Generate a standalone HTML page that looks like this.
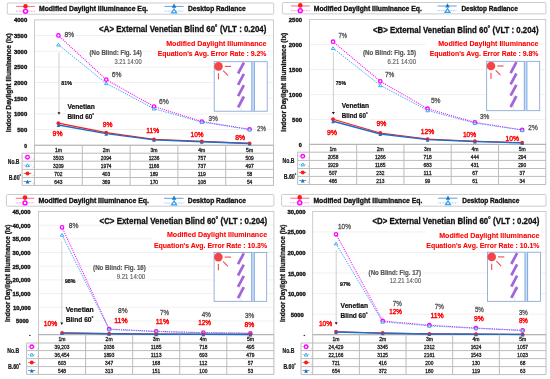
<!DOCTYPE html>
<html><head><meta charset="utf-8"><title>External Venetian Blind 60 charts</title>
<style>
html,body{margin:0;padding:0;background:#fff;}
body{width:550px;height:379px;overflow:hidden;}
svg{display:block;filter:blur(0.35px);font-family:'Liberation Sans', Arial, sans-serif;}
</style></head><body>
<svg width="550" height="379" viewBox="0 0 550 379">
<rect width="550" height="379" fill="#fff"/>
<rect x="7.3" y="3.0" width="266.4" height="11.2" rx="1" fill="#fff" stroke="#c0c0c0" stroke-width="0.8"/>
<line x1="16.00" y1="6.40" x2="34.80" y2="6.40" stroke="#f25050" stroke-width="0.8"/>
<line x1="16.00" y1="11.20" x2="34.80" y2="11.20" stroke="#ff55ff" stroke-width="0.8" stroke-dasharray="0.8 0.7"/>
<circle cx="25.50" cy="6.30" r="2.28" fill="#ff1a1a"/>
<circle cx="25.50" cy="11.20" r="1.95" fill="#fff" stroke="#ff00ff" stroke-width="1.49"/>
<text x="39.0" y="10.8" font-size="6.4" font-weight="bold" fill="#111" stroke="#111" stroke-width="0.3" textLength="109.0" lengthAdjust="spacingAndGlyphs">Modified Daylight Illuminance Eq.</text>
<line x1="164.50" y1="6.40" x2="183.60" y2="6.40" stroke="#3d85d8" stroke-width="0.8"/>
<line x1="164.50" y1="11.05" x2="183.60" y2="11.05" stroke="#7cbcf0" stroke-width="0.8" stroke-dasharray="1 0.7"/>
<path d="M174.10,3.53 L176.26,7.85 L171.94,7.85Z" fill="#1b6fc8"/>
<path d="M174.10,8.99 L176.55,12.84 L171.65,12.84Z" fill="#fff" stroke="#30a4ee" stroke-width="1.26"/>
<text x="188.0" y="10.8" font-size="6.4" font-weight="bold" fill="#111" stroke="#111" stroke-width="0.3" textLength="57.6" lengthAdjust="spacingAndGlyphs">Desktop Radiance</text>
<line x1="34.50" y1="129.54" x2="273.50" y2="129.54" stroke="#f0f0f0" stroke-width="1.0"/>
<line x1="34.50" y1="113.88" x2="273.50" y2="113.88" stroke="#f0f0f0" stroke-width="1.0"/>
<line x1="34.50" y1="98.21" x2="273.50" y2="98.21" stroke="#f0f0f0" stroke-width="1.0"/>
<line x1="34.50" y1="82.55" x2="273.50" y2="82.55" stroke="#f0f0f0" stroke-width="1.0"/>
<line x1="34.50" y1="66.89" x2="273.50" y2="66.89" stroke="#f0f0f0" stroke-width="1.0"/>
<line x1="34.50" y1="51.22" x2="273.50" y2="51.22" stroke="#f0f0f0" stroke-width="1.0"/>
<line x1="34.50" y1="35.56" x2="273.50" y2="35.56" stroke="#f0f0f0" stroke-width="1.0"/>
<rect x="34.5" y="19.9" width="239.0" height="125.3" fill="none" stroke="#c0c0c0" stroke-width="0.8"/>
<rect x="88" y="47" width="54.4" height="18.5" fill="#fff"/>
<rect x="151.8" y="38" width="116.2" height="21.5" fill="#fff"/>
<rect x="66" y="100.5" width="30.5" height="21.5" fill="#fff"/>
<rect x="63.3" y="30.4" width="12.1" height="7.2" fill="#fff"/>
<rect x="110.6" y="70.9" width="12.1" height="7.2" fill="#fff"/>
<rect x="157.8" y="98.0" width="12.2" height="7.2" fill="#fff"/>
<rect x="207.4" y="114.3" width="11.6" height="7.2" fill="#fff"/>
<rect x="255.8" y="124.4" width="11.4" height="7.2" fill="#fff"/>
<rect x="51.4" y="130.0" width="12.3" height="7.2" fill="#fff"/>
<rect x="101.6" y="120.8" width="12.1" height="7.2" fill="#fff"/>
<rect x="145.1" y="126.7" width="15.3" height="7.2" fill="#fff"/>
<rect x="189.4" y="130.6" width="15.4" height="7.2" fill="#fff"/>
<rect x="234.0" y="133.7" width="12.3" height="7.2" fill="#fff"/>
<rect x="60.1" y="79.7" width="12.9" height="7.2" fill="#fff"/>
<text x="17.3" y="132.0" font-size="5.9" font-weight="bold" fill="#111" stroke="#111" stroke-width="0.36" textLength="9.9" lengthAdjust="spacingAndGlyphs">500</text>
<text x="14.0" y="116.3" font-size="5.9" font-weight="bold" fill="#111" stroke="#111" stroke-width="0.36" textLength="13.2" lengthAdjust="spacingAndGlyphs">1000</text>
<text x="14.0" y="100.7" font-size="5.9" font-weight="bold" fill="#111" stroke="#111" stroke-width="0.36" textLength="13.2" lengthAdjust="spacingAndGlyphs">1500</text>
<text x="14.0" y="85.0" font-size="5.9" font-weight="bold" fill="#111" stroke="#111" stroke-width="0.36" textLength="13.2" lengthAdjust="spacingAndGlyphs">2000</text>
<text x="14.0" y="69.4" font-size="5.9" font-weight="bold" fill="#111" stroke="#111" stroke-width="0.36" textLength="13.2" lengthAdjust="spacingAndGlyphs">2500</text>
<text x="14.0" y="53.7" font-size="5.9" font-weight="bold" fill="#111" stroke="#111" stroke-width="0.36" textLength="13.2" lengthAdjust="spacingAndGlyphs">3000</text>
<text x="14.0" y="38.0" font-size="5.9" font-weight="bold" fill="#111" stroke="#111" stroke-width="0.36" textLength="13.2" lengthAdjust="spacingAndGlyphs">3500</text>
<text x="14.0" y="22.4" font-size="5.9" font-weight="bold" fill="#111" stroke="#111" stroke-width="0.36" textLength="13.2" lengthAdjust="spacingAndGlyphs">4000</text>
<text transform="translate(11.0,82.7) rotate(-90)" x="0" y="0" text-anchor="middle" font-size="7" font-weight="bold" fill="#1a1a1a" stroke="#1a1a1a" stroke-width="0.3" textLength="99" lengthAdjust="spacingAndGlyphs">Indoor Daylight Illuminance (lx)</text>
<g transform="translate(214.2,61.7)"><rect x="0" y="0" width="53.0" height="49.5" fill="#fff" stroke="#7f9fd6" stroke-width="0.8"/><rect x="37.6" y="0" width="2.6" height="49.5" fill="#cddff5"/><line x1="37.6" y1="0" x2="37.6" y2="49.5" stroke="#6b9ce0" stroke-width="0.85"/><line x1="40.2" y1="0" x2="40.2" y2="49.5" stroke="#6b9ce0" stroke-width="0.85"/><line x1="26.9" y1="33" x2="26.9" y2="49.5" stroke="#cccccc" stroke-width="0.5"/><circle cx="4.3" cy="4.7" r="4.3" fill="#f44646"/><line x1="10.6" y1="4.7" x2="16.9" y2="4.7" stroke="#f44a4a" stroke-width="1.1"/><line x1="9" y1="9" x2="13.8" y2="13.9" stroke="#f44a4a" stroke-width="1.1"/><line x1="4.3" y1="11.5" x2="4.3" y2="17.8" stroke="#f44a4a" stroke-width="1.1"/>
<line x1="29.7" y1="0.9" x2="23.9" y2="11.8" stroke="#a266da" stroke-width="2.7"/>
<line x1="29.7" y1="12.2" x2="23.9" y2="23.1" stroke="#a266da" stroke-width="2.7"/>
<line x1="29.7" y1="23.5" x2="23.9" y2="34.4" stroke="#a266da" stroke-width="2.7"/>
<line x1="29.7" y1="34.8" x2="23.9" y2="45.7" stroke="#a266da" stroke-width="2.7"/>
</g>
<line x1="59.00" y1="52.50" x2="59.00" y2="112.50" stroke="#c6c6c6" stroke-width="0.85"/>
<path d="M57.55,112.20 L60.45,112.20 L59.00,114.70Z" fill="#111"/>
<line x1="34.50" y1="145.20" x2="273.50" y2="145.20" stroke="#b4b4b4" stroke-width="1.1"/>
<path d="M58.40,35.47 L106.20,79.61 L154.00,106.48 L201.80,121.49 L249.60,129.26" fill="none" stroke="#ff00ff" stroke-width="1.05" stroke-dasharray="1.0 1.1"/>
<path d="M58.40,44.68 L106.20,83.36 L154.00,108.68 L201.80,122.11 L249.60,129.63" fill="none" stroke="#30a4ee" stroke-width="0.95" stroke-dasharray="1.4 1.1"/>
<path d="M58.40,123.21 L106.20,132.58 L154.00,139.28 L201.80,141.47 L249.60,143.38" fill="none" stroke="#ff1a1a" stroke-width="1.2"/>
<path d="M58.40,125.06 L106.20,133.64 L154.00,139.87 L201.80,141.82 L249.60,143.51" fill="none" stroke="#1b6fc8" stroke-width="1.45"/>
<circle cx="58.40" cy="35.47" r="1.70" fill="#fff" stroke="#ff00ff" stroke-width="1.30"/>
<circle cx="106.20" cy="79.61" r="1.70" fill="#fff" stroke="#ff00ff" stroke-width="1.30"/>
<circle cx="154.00" cy="106.48" r="1.70" fill="#fff" stroke="#ff00ff" stroke-width="1.30"/>
<circle cx="201.80" cy="121.49" r="1.70" fill="#fff" stroke="#ff00ff" stroke-width="1.30"/>
<circle cx="249.60" cy="129.26" r="1.70" fill="#fff" stroke="#ff00ff" stroke-width="1.30"/>
<path d="M58.40,43.28 L60.15,46.03 L56.65,46.03Z" fill="#fff" stroke="#30a4ee" stroke-width="0.90"/>
<path d="M106.20,81.96 L107.95,84.71 L104.45,84.71Z" fill="#fff" stroke="#30a4ee" stroke-width="0.90"/>
<path d="M154.00,107.28 L155.75,110.03 L152.25,110.03Z" fill="#fff" stroke="#30a4ee" stroke-width="0.90"/>
<path d="M201.80,120.71 L203.55,123.46 L200.05,123.46Z" fill="#fff" stroke="#30a4ee" stroke-width="0.90"/>
<path d="M249.60,128.23 L251.35,130.98 L247.85,130.98Z" fill="#fff" stroke="#30a4ee" stroke-width="0.90"/>
<circle cx="58.40" cy="123.21" r="1.90" fill="#ff1a1a"/>
<circle cx="106.20" cy="132.58" r="1.90" fill="#ff1a1a"/>
<circle cx="154.00" cy="139.28" r="1.90" fill="#ff1a1a"/>
<circle cx="201.80" cy="141.47" r="1.90" fill="#ff1a1a"/>
<circle cx="249.60" cy="143.38" r="1.90" fill="#ff1a1a"/>
<path d="M58.40,123.46 L60.20,127.06 L56.60,127.06Z" fill="#1b6fc8"/>
<path d="M106.20,132.04 L108.00,135.64 L104.40,135.64Z" fill="#1b6fc8"/>
<path d="M154.00,138.27 L155.80,141.87 L152.20,141.87Z" fill="#1b6fc8"/>
<path d="M201.80,140.22 L203.60,143.82 L200.00,143.82Z" fill="#1b6fc8"/>
<path d="M249.60,141.91 L251.40,145.51 L247.80,145.51Z" fill="#1b6fc8"/>
<text x="99.1" y="32.3" font-size="8.6" font-weight="bold" fill="#111" stroke="#111" stroke-width="0.3" textLength="167.3" lengthAdjust="spacingAndGlyphs">&lt;A&gt; External Venetian Blind 60˚ (VLT : 0.204)</text>
<text x="166.2" y="45.8" font-size="7.5" font-weight="bold" fill="#ff0000" stroke="#ff0000" stroke-width="0.1" textLength="100.2" lengthAdjust="spacingAndGlyphs">Modified Daylight Illuminance</text>
<text x="157.7" y="56.3" font-size="7.5" font-weight="bold" fill="#ff0000" stroke="#ff0000" stroke-width="0.1" textLength="108.7" lengthAdjust="spacingAndGlyphs">Equation's Avg. Error Rate : 9.2%</text>
<text x="89.5" y="55.4" font-size="6.8" font-weight="bold" fill="#595959" stroke="#595959" stroke-width="0.22" textLength="52.3" lengthAdjust="spacingAndGlyphs">(No Blind: Fig. 14)</text>
<text x="114.5" y="64.3" font-size="6.5" fill="#606060" stroke="#606060" stroke-width="0.15" textLength="27.3" lengthAdjust="spacingAndGlyphs">3.21 14:00</text>
<text x="61.3" y="85.3" font-size="5.6" font-weight="bold" fill="#111" stroke="#111" stroke-width="0.22" textLength="10.5" lengthAdjust="spacingAndGlyphs">81%</text>
<text x="67.4" y="109.3" font-size="7.2" font-weight="bold" fill="#111" stroke="#111" stroke-width="0.22" textLength="27.5" lengthAdjust="spacingAndGlyphs">Venetian</text>
<text x="67.4" y="119.2" font-size="7.2" font-weight="bold" fill="#111" stroke="#111" stroke-width="0.22" textLength="27.1" lengthAdjust="spacingAndGlyphs">Blind 60˚</text>
<text x="64.5" y="36.6" font-size="8.0" fill="#505050" stroke="#505050" stroke-width="0.32" textLength="9.7" lengthAdjust="spacingAndGlyphs">8%</text>
<text x="111.8" y="77.1" font-size="8.0" fill="#505050" stroke="#505050" stroke-width="0.32" textLength="9.7" lengthAdjust="spacingAndGlyphs">6%</text>
<text x="159.0" y="104.2" font-size="8.0" fill="#505050" stroke="#505050" stroke-width="0.32" textLength="9.8" lengthAdjust="spacingAndGlyphs">6%</text>
<text x="208.6" y="120.5" font-size="8.0" fill="#505050" stroke="#505050" stroke-width="0.32" textLength="9.2" lengthAdjust="spacingAndGlyphs">3%</text>
<text x="257.0" y="130.6" font-size="8.0" fill="#505050" stroke="#505050" stroke-width="0.32" textLength="9.0" lengthAdjust="spacingAndGlyphs">2%</text>
<text x="52.6" y="136.2" font-size="7.9" fill="#ff0000" stroke="#ff0000" stroke-width="0.45" textLength="9.9" lengthAdjust="spacingAndGlyphs">9%</text>
<text x="102.8" y="127.0" font-size="7.9" fill="#ff0000" stroke="#ff0000" stroke-width="0.45" textLength="9.7" lengthAdjust="spacingAndGlyphs">9%</text>
<text x="146.3" y="132.9" font-size="7.9" fill="#ff0000" stroke="#ff0000" stroke-width="0.45" textLength="12.9" lengthAdjust="spacingAndGlyphs">11%</text>
<text x="190.6" y="136.8" font-size="7.9" fill="#ff0000" stroke="#ff0000" stroke-width="0.45" textLength="13.0" lengthAdjust="spacingAndGlyphs">10%</text>
<text x="235.2" y="139.9" font-size="7.9" fill="#ff0000" stroke="#ff0000" stroke-width="0.45" textLength="9.9" lengthAdjust="spacingAndGlyphs">8%</text>
<line x1="22.10" y1="153.20" x2="273.50" y2="153.20" stroke="#bcbcbc" stroke-width="1.0"/>
<line x1="22.10" y1="161.20" x2="273.50" y2="161.20" stroke="#bcbcbc" stroke-width="1.0"/>
<line x1="22.10" y1="169.40" x2="273.50" y2="169.40" stroke="#bcbcbc" stroke-width="1.0"/>
<line x1="22.10" y1="177.50" x2="273.50" y2="177.50" stroke="#bcbcbc" stroke-width="1.0"/>
<line x1="22.10" y1="185.40" x2="273.50" y2="185.40" stroke="#bcbcbc" stroke-width="1.0"/>
<line x1="22.10" y1="153.20" x2="22.10" y2="185.40" stroke="#bcbcbc" stroke-width="1.0"/>
<line x1="34.50" y1="145.20" x2="34.50" y2="185.40" stroke="#bcbcbc" stroke-width="1.0"/>
<line x1="82.30" y1="145.20" x2="82.30" y2="185.40" stroke="#bcbcbc" stroke-width="1.0"/>
<line x1="130.10" y1="145.20" x2="130.10" y2="185.40" stroke="#bcbcbc" stroke-width="1.0"/>
<line x1="177.90" y1="145.20" x2="177.90" y2="185.40" stroke="#bcbcbc" stroke-width="1.0"/>
<line x1="225.70" y1="145.20" x2="225.70" y2="185.40" stroke="#bcbcbc" stroke-width="1.0"/>
<line x1="273.50" y1="145.20" x2="273.50" y2="185.40" stroke="#bcbcbc" stroke-width="1.0"/>
<line x1="23.70" y1="157.20" x2="31.30" y2="157.20" stroke="#ff44ff" stroke-width="0.8" stroke-dasharray="1 0.8"/>
<circle cx="27.50" cy="157.20" r="1.78" fill="#fff" stroke="#ff00ff" stroke-width="1.37"/>
<line x1="33.30" y1="158.40" x2="33.30" y2="159.80" stroke="#aaa" stroke-width="0.5"/>
<line x1="23.70" y1="165.30" x2="31.30" y2="165.30" stroke="#5ab4f0" stroke-width="0.8" stroke-dasharray="1 0.8"/>
<path d="M27.50,163.83 L29.34,166.72 L25.66,166.72Z" fill="#fff" stroke="#30a4ee" stroke-width="0.95"/>
<line x1="33.30" y1="166.50" x2="33.30" y2="167.90" stroke="#aaa" stroke-width="0.5"/>
<line x1="23.70" y1="173.45" x2="31.30" y2="173.45" stroke="#ff3030" stroke-width="0.8"/>
<circle cx="27.50" cy="173.45" r="1.99" fill="#ff1a1a"/>
<line x1="33.30" y1="174.65" x2="33.30" y2="176.05" stroke="#aaa" stroke-width="0.5"/>
<line x1="23.70" y1="181.45" x2="31.30" y2="181.45" stroke="#2a80d0" stroke-width="0.8"/>
<path d="M27.50,179.77 L29.39,183.55 L25.61,183.55Z" fill="#1b6fc8"/>
<line x1="33.30" y1="182.65" x2="33.30" y2="184.05" stroke="#aaa" stroke-width="0.5"/>
<text x="58.4" y="151.5" font-size="5.3" fill="#222222" stroke="#222222" stroke-width="0.3" text-anchor="middle" textLength="7.0" lengthAdjust="spacingAndGlyphs">1m</text>
<text x="106.2" y="151.5" font-size="5.3" fill="#222222" stroke="#222222" stroke-width="0.3" text-anchor="middle" textLength="7.0" lengthAdjust="spacingAndGlyphs">2m</text>
<text x="154.0" y="151.5" font-size="5.3" fill="#222222" stroke="#222222" stroke-width="0.3" text-anchor="middle" textLength="7.0" lengthAdjust="spacingAndGlyphs">3m</text>
<text x="201.8" y="151.5" font-size="5.3" fill="#222222" stroke="#222222" stroke-width="0.3" text-anchor="middle" textLength="7.0" lengthAdjust="spacingAndGlyphs">4m</text>
<text x="249.6" y="151.5" font-size="5.3" fill="#222222" stroke="#222222" stroke-width="0.3" text-anchor="middle" textLength="7.0" lengthAdjust="spacingAndGlyphs">5m</text>
<text x="58.4" y="159.6" font-size="5.3" fill="#222222" stroke="#222222" stroke-width="0.3" text-anchor="middle" textLength="10.7" lengthAdjust="spacingAndGlyphs">3503</text>
<text x="106.2" y="159.6" font-size="5.3" fill="#222222" stroke="#222222" stroke-width="0.3" text-anchor="middle" textLength="10.7" lengthAdjust="spacingAndGlyphs">2094</text>
<text x="154.0" y="159.6" font-size="5.3" fill="#222222" stroke="#222222" stroke-width="0.3" text-anchor="middle" textLength="10.7" lengthAdjust="spacingAndGlyphs">1236</text>
<text x="201.8" y="159.6" font-size="5.3" fill="#222222" stroke="#222222" stroke-width="0.3" text-anchor="middle" textLength="8.1" lengthAdjust="spacingAndGlyphs">757</text>
<text x="249.6" y="159.6" font-size="5.3" fill="#222222" stroke="#222222" stroke-width="0.3" text-anchor="middle" textLength="8.1" lengthAdjust="spacingAndGlyphs">509</text>
<text x="58.4" y="167.7" font-size="5.3" fill="#222222" stroke="#222222" stroke-width="0.3" text-anchor="middle" textLength="10.7" lengthAdjust="spacingAndGlyphs">3209</text>
<text x="106.2" y="167.7" font-size="5.3" fill="#222222" stroke="#222222" stroke-width="0.3" text-anchor="middle" textLength="10.7" lengthAdjust="spacingAndGlyphs">1974</text>
<text x="154.0" y="167.7" font-size="5.3" fill="#222222" stroke="#222222" stroke-width="0.3" text-anchor="middle" textLength="10.7" lengthAdjust="spacingAndGlyphs">1166</text>
<text x="201.8" y="167.7" font-size="5.3" fill="#222222" stroke="#222222" stroke-width="0.3" text-anchor="middle" textLength="8.1" lengthAdjust="spacingAndGlyphs">737</text>
<text x="249.6" y="167.7" font-size="5.3" fill="#222222" stroke="#222222" stroke-width="0.3" text-anchor="middle" textLength="8.1" lengthAdjust="spacingAndGlyphs">497</text>
<text x="58.4" y="175.8" font-size="5.3" fill="#222222" stroke="#222222" stroke-width="0.3" text-anchor="middle" textLength="8.1" lengthAdjust="spacingAndGlyphs">702</text>
<text x="106.2" y="175.8" font-size="5.3" fill="#222222" stroke="#222222" stroke-width="0.3" text-anchor="middle" textLength="8.1" lengthAdjust="spacingAndGlyphs">403</text>
<text x="154.0" y="175.8" font-size="5.3" fill="#222222" stroke="#222222" stroke-width="0.3" text-anchor="middle" textLength="8.1" lengthAdjust="spacingAndGlyphs">189</text>
<text x="201.8" y="175.8" font-size="5.3" fill="#222222" stroke="#222222" stroke-width="0.3" text-anchor="middle" textLength="8.1" lengthAdjust="spacingAndGlyphs">119</text>
<text x="249.6" y="175.8" font-size="5.3" fill="#222222" stroke="#222222" stroke-width="0.3" text-anchor="middle" textLength="5.4" lengthAdjust="spacingAndGlyphs">58</text>
<text x="58.4" y="183.8" font-size="5.3" fill="#222222" stroke="#222222" stroke-width="0.3" text-anchor="middle" textLength="8.1" lengthAdjust="spacingAndGlyphs">643</text>
<text x="106.2" y="183.8" font-size="5.3" fill="#222222" stroke="#222222" stroke-width="0.3" text-anchor="middle" textLength="8.1" lengthAdjust="spacingAndGlyphs">369</text>
<text x="154.0" y="183.8" font-size="5.3" fill="#222222" stroke="#222222" stroke-width="0.3" text-anchor="middle" textLength="8.1" lengthAdjust="spacingAndGlyphs">170</text>
<text x="201.8" y="183.8" font-size="5.3" fill="#222222" stroke="#222222" stroke-width="0.3" text-anchor="middle" textLength="8.1" lengthAdjust="spacingAndGlyphs">108</text>
<text x="249.6" y="183.8" font-size="5.3" fill="#222222" stroke="#222222" stroke-width="0.3" text-anchor="middle" textLength="5.4" lengthAdjust="spacingAndGlyphs">54</text>
<text x="7.8" y="164.1" font-size="6.4" font-weight="bold" fill="#1a1a1a" stroke="#1a1a1a" stroke-width="0.22" textLength="11.7" lengthAdjust="spacingAndGlyphs">No.B</text>
<text x="8.7" y="180.1" font-size="6.4" font-weight="bold" fill="#1a1a1a" stroke="#1a1a1a" stroke-width="0.22" textLength="12.6" lengthAdjust="spacingAndGlyphs">B.60˚</text>
<rect x="282.4" y="2.5" width="263.5" height="11.4" rx="1" fill="#fff" stroke="#c0c0c0" stroke-width="0.8"/>
<line x1="291.00" y1="6.00" x2="309.80" y2="6.00" stroke="#f25050" stroke-width="0.8"/>
<line x1="291.00" y1="10.65" x2="309.80" y2="10.65" stroke="#ff55ff" stroke-width="0.8" stroke-dasharray="0.8 0.7"/>
<circle cx="300.30" cy="5.40" r="2.28" fill="#ff1a1a"/>
<circle cx="300.30" cy="10.65" r="1.95" fill="#fff" stroke="#ff00ff" stroke-width="1.49"/>
<text x="313.8" y="10.7" font-size="6.4" font-weight="bold" fill="#111" stroke="#111" stroke-width="0.3" textLength="108.0" lengthAdjust="spacingAndGlyphs">Modified Daylight Illuminance Eq.</text>
<line x1="437.60" y1="6.00" x2="456.70" y2="6.00" stroke="#3d85d8" stroke-width="0.8"/>
<line x1="437.60" y1="10.65" x2="456.70" y2="10.65" stroke="#7cbcf0" stroke-width="0.8" stroke-dasharray="1 0.7"/>
<path d="M447.50,3.13 L449.66,7.45 L445.34,7.45Z" fill="#1b6fc8"/>
<path d="M447.50,8.59 L449.95,12.44 L445.05,12.44Z" fill="#fff" stroke="#30a4ee" stroke-width="1.26"/>
<text x="461.4" y="10.7" font-size="6.4" font-weight="bold" fill="#111" stroke="#111" stroke-width="0.3" textLength="56.4" lengthAdjust="spacingAndGlyphs">Desktop Radiance</text>
<line x1="309.40" y1="119.60" x2="545.80" y2="119.60" stroke="#f0f0f0" stroke-width="1.0"/>
<line x1="309.40" y1="94.60" x2="545.80" y2="94.60" stroke="#f0f0f0" stroke-width="1.0"/>
<line x1="309.40" y1="69.60" x2="545.80" y2="69.60" stroke="#f0f0f0" stroke-width="1.0"/>
<line x1="309.40" y1="44.60" x2="545.80" y2="44.60" stroke="#f0f0f0" stroke-width="1.0"/>
<rect x="309.4" y="19.6" width="236.4" height="125.0" fill="none" stroke="#c0c0c0" stroke-width="0.8"/>
<rect x="361.5" y="47" width="55.5" height="18.5" fill="#fff"/>
<rect x="425.5" y="38" width="115.5" height="21.5" fill="#fff"/>
<rect x="340.3" y="100" width="30.2" height="21.0" fill="#fff"/>
<rect x="337.2" y="31.8" width="11.0" height="7.2" fill="#fff"/>
<rect x="383.8" y="71.0" width="11.8" height="7.2" fill="#fff"/>
<rect x="429.7" y="96.8" width="12.0" height="7.2" fill="#fff"/>
<rect x="478.8" y="112.8" width="11.8" height="7.2" fill="#fff"/>
<rect x="527.1" y="123.4" width="11.8" height="7.2" fill="#fff"/>
<rect x="325.7" y="129.1" width="12.5" height="7.2" fill="#fff"/>
<rect x="375.3" y="119.8" width="12.3" height="7.2" fill="#fff"/>
<rect x="419.5" y="127.3" width="15.9" height="7.2" fill="#fff"/>
<rect x="461.7" y="130.6" width="15.7" height="7.2" fill="#fff"/>
<rect x="504.2" y="134.4" width="15.9" height="7.2" fill="#fff"/>
<rect x="334.6" y="79.1" width="12.5" height="7.2" fill="#fff"/>
<text x="292.1" y="122.1" font-size="5.9" font-weight="bold" fill="#111" stroke="#111" stroke-width="0.36" textLength="9.9" lengthAdjust="spacingAndGlyphs">500</text>
<text x="288.8" y="97.1" font-size="5.9" font-weight="bold" fill="#111" stroke="#111" stroke-width="0.36" textLength="13.2" lengthAdjust="spacingAndGlyphs">1000</text>
<text x="288.8" y="72.1" font-size="5.9" font-weight="bold" fill="#111" stroke="#111" stroke-width="0.36" textLength="13.2" lengthAdjust="spacingAndGlyphs">1500</text>
<text x="288.8" y="47.1" font-size="5.9" font-weight="bold" fill="#111" stroke="#111" stroke-width="0.36" textLength="13.2" lengthAdjust="spacingAndGlyphs">2000</text>
<text x="288.8" y="22.1" font-size="5.9" font-weight="bold" fill="#111" stroke="#111" stroke-width="0.36" textLength="13.2" lengthAdjust="spacingAndGlyphs">2500</text>
<text transform="translate(286.0,82.2) rotate(-90)" x="0" y="0" text-anchor="middle" font-size="7" font-weight="bold" fill="#1a1a1a" stroke="#1a1a1a" stroke-width="0.3" textLength="99" lengthAdjust="spacingAndGlyphs">Indoor Daylight Illuminance (lx)</text>
<g transform="translate(486.7,61.3)"><rect x="0" y="0" width="53.0" height="49.4" fill="#fff" stroke="#7f9fd6" stroke-width="0.8"/><rect x="37.6" y="0" width="2.6" height="49.4" fill="#cddff5"/><line x1="37.6" y1="0" x2="37.6" y2="49.4" stroke="#6b9ce0" stroke-width="0.85"/><line x1="40.2" y1="0" x2="40.2" y2="49.4" stroke="#6b9ce0" stroke-width="0.85"/><line x1="26.9" y1="33" x2="26.9" y2="49.4" stroke="#cccccc" stroke-width="0.5"/><circle cx="4.3" cy="4.7" r="4.3" fill="#f44646"/><line x1="10.6" y1="4.7" x2="16.9" y2="4.7" stroke="#f44a4a" stroke-width="1.1"/><line x1="9" y1="9" x2="13.8" y2="13.9" stroke="#f44a4a" stroke-width="1.1"/><line x1="4.3" y1="11.5" x2="4.3" y2="17.8" stroke="#f44a4a" stroke-width="1.1"/>
<line x1="29.7" y1="0.9" x2="23.9" y2="11.8" stroke="#a266da" stroke-width="2.7"/>
<line x1="29.7" y1="12.2" x2="23.9" y2="23.1" stroke="#a266da" stroke-width="2.7"/>
<line x1="29.7" y1="23.5" x2="23.9" y2="34.4" stroke="#a266da" stroke-width="2.7"/>
<line x1="29.7" y1="34.8" x2="23.9" y2="45.7" stroke="#a266da" stroke-width="2.7"/>
</g>
<line x1="333.40" y1="52.30" x2="333.40" y2="112.30" stroke="#c6c6c6" stroke-width="0.85"/>
<path d="M331.95,112.00 L334.85,112.00 L333.40,114.50Z" fill="#111"/>
<line x1="309.40" y1="144.40" x2="545.80" y2="144.40" stroke="#b4b4b4" stroke-width="1.1"/>
<path d="M333.04,41.70 L380.32,81.30 L427.60,108.70 L474.88,122.40 L522.16,129.90" fill="none" stroke="#ff00ff" stroke-width="1.05" stroke-dasharray="1.0 1.1"/>
<path d="M333.04,48.15 L380.32,85.35 L427.60,110.45 L474.88,123.05 L522.16,130.10" fill="none" stroke="#30a4ee" stroke-width="0.95" stroke-dasharray="1.4 1.1"/>
<path d="M333.04,119.25 L380.32,133.00 L427.60,139.05 L474.88,141.25 L522.16,142.75" fill="none" stroke="#ff1a1a" stroke-width="1.2"/>
<path d="M333.04,121.30 L380.32,133.95 L427.60,139.65 L474.88,141.55 L522.16,142.90" fill="none" stroke="#1b6fc8" stroke-width="1.45"/>
<circle cx="333.04" cy="41.70" r="1.70" fill="#fff" stroke="#ff00ff" stroke-width="1.30"/>
<circle cx="380.32" cy="81.30" r="1.70" fill="#fff" stroke="#ff00ff" stroke-width="1.30"/>
<circle cx="427.60" cy="108.70" r="1.70" fill="#fff" stroke="#ff00ff" stroke-width="1.30"/>
<circle cx="474.88" cy="122.40" r="1.70" fill="#fff" stroke="#ff00ff" stroke-width="1.30"/>
<circle cx="522.16" cy="129.90" r="1.70" fill="#fff" stroke="#ff00ff" stroke-width="1.30"/>
<path d="M333.04,46.75 L334.79,49.50 L331.29,49.50Z" fill="#fff" stroke="#30a4ee" stroke-width="0.90"/>
<path d="M380.32,83.95 L382.07,86.70 L378.57,86.70Z" fill="#fff" stroke="#30a4ee" stroke-width="0.90"/>
<path d="M427.60,109.05 L429.35,111.80 L425.85,111.80Z" fill="#fff" stroke="#30a4ee" stroke-width="0.90"/>
<path d="M474.88,121.65 L476.63,124.40 L473.13,124.40Z" fill="#fff" stroke="#30a4ee" stroke-width="0.90"/>
<path d="M522.16,128.70 L523.91,131.45 L520.41,131.45Z" fill="#fff" stroke="#30a4ee" stroke-width="0.90"/>
<circle cx="333.04" cy="119.25" r="1.90" fill="#ff1a1a"/>
<circle cx="380.32" cy="133.00" r="1.90" fill="#ff1a1a"/>
<circle cx="427.60" cy="139.05" r="1.90" fill="#ff1a1a"/>
<circle cx="474.88" cy="141.25" r="1.90" fill="#ff1a1a"/>
<circle cx="522.16" cy="142.75" r="1.90" fill="#ff1a1a"/>
<path d="M333.04,119.70 L334.84,123.30 L331.24,123.30Z" fill="#1b6fc8"/>
<path d="M380.32,132.35 L382.12,135.95 L378.52,135.95Z" fill="#1b6fc8"/>
<path d="M427.60,138.05 L429.40,141.65 L425.80,141.65Z" fill="#1b6fc8"/>
<path d="M474.88,139.95 L476.68,143.55 L473.08,143.55Z" fill="#1b6fc8"/>
<path d="M522.16,141.30 L523.96,144.90 L520.36,144.90Z" fill="#1b6fc8"/>
<text x="373.0" y="32.5" font-size="8.6" font-weight="bold" fill="#111" stroke="#111" stroke-width="0.3" textLength="165.5" lengthAdjust="spacingAndGlyphs">&lt;B&gt; External Venetian Blind 60˚ (VLT : 0.204)</text>
<text x="438.2" y="45.5" font-size="7.5" font-weight="bold" fill="#ff0000" stroke="#ff0000" stroke-width="0.1" textLength="100.3" lengthAdjust="spacingAndGlyphs">Modified Daylight Illuminance</text>
<text x="429.7" y="56.1" font-size="7.5" font-weight="bold" fill="#ff0000" stroke="#ff0000" stroke-width="0.1" textLength="108.8" lengthAdjust="spacingAndGlyphs">Equation's Avg. Error Rate : 9.8%</text>
<text x="363.0" y="55.0" font-size="6.8" font-weight="bold" fill="#595959" stroke="#595959" stroke-width="0.22" textLength="53.0" lengthAdjust="spacingAndGlyphs">(No Blind: Fig. 15)</text>
<text x="387.6" y="63.7" font-size="6.5" fill="#606060" stroke="#606060" stroke-width="0.15" textLength="28.4" lengthAdjust="spacingAndGlyphs">6.21 14:00</text>
<text x="335.8" y="84.7" font-size="5.6" font-weight="bold" fill="#111" stroke="#111" stroke-width="0.22" textLength="10.1" lengthAdjust="spacingAndGlyphs">75%</text>
<text x="341.7" y="108.4" font-size="7.2" font-weight="bold" fill="#111" stroke="#111" stroke-width="0.22" textLength="27.4" lengthAdjust="spacingAndGlyphs">Venetian</text>
<text x="341.7" y="117.6" font-size="7.2" font-weight="bold" fill="#111" stroke="#111" stroke-width="0.22" textLength="26.3" lengthAdjust="spacingAndGlyphs">Blind 60˚</text>
<text x="338.4" y="38.0" font-size="8.0" fill="#505050" stroke="#505050" stroke-width="0.32" textLength="8.6" lengthAdjust="spacingAndGlyphs">7%</text>
<text x="385.0" y="77.2" font-size="8.0" fill="#505050" stroke="#505050" stroke-width="0.32" textLength="9.4" lengthAdjust="spacingAndGlyphs">7%</text>
<text x="430.9" y="103.0" font-size="8.0" fill="#505050" stroke="#505050" stroke-width="0.32" textLength="9.6" lengthAdjust="spacingAndGlyphs">5%</text>
<text x="480.0" y="119.0" font-size="8.0" fill="#505050" stroke="#505050" stroke-width="0.32" textLength="9.4" lengthAdjust="spacingAndGlyphs">3%</text>
<text x="528.3" y="129.6" font-size="8.0" fill="#505050" stroke="#505050" stroke-width="0.32" textLength="9.4" lengthAdjust="spacingAndGlyphs">2%</text>
<text x="326.9" y="135.3" font-size="7.9" fill="#ff0000" stroke="#ff0000" stroke-width="0.45" textLength="10.1" lengthAdjust="spacingAndGlyphs">9%</text>
<text x="376.5" y="126.0" font-size="7.9" fill="#ff0000" stroke="#ff0000" stroke-width="0.45" textLength="9.9" lengthAdjust="spacingAndGlyphs">9%</text>
<text x="420.7" y="133.5" font-size="7.9" fill="#ff0000" stroke="#ff0000" stroke-width="0.45" textLength="13.5" lengthAdjust="spacingAndGlyphs">12%</text>
<text x="462.9" y="136.8" font-size="7.9" fill="#ff0000" stroke="#ff0000" stroke-width="0.45" textLength="13.3" lengthAdjust="spacingAndGlyphs">10%</text>
<text x="505.4" y="140.6" font-size="7.9" fill="#ff0000" stroke="#ff0000" stroke-width="0.45" textLength="13.5" lengthAdjust="spacingAndGlyphs">10%</text>
<line x1="297.70" y1="152.20" x2="545.80" y2="152.20" stroke="#bcbcbc" stroke-width="1.0"/>
<line x1="297.70" y1="160.40" x2="545.80" y2="160.40" stroke="#bcbcbc" stroke-width="1.0"/>
<line x1="297.70" y1="168.50" x2="545.80" y2="168.50" stroke="#bcbcbc" stroke-width="1.0"/>
<line x1="297.70" y1="176.40" x2="545.80" y2="176.40" stroke="#bcbcbc" stroke-width="1.0"/>
<line x1="297.70" y1="184.50" x2="545.80" y2="184.50" stroke="#bcbcbc" stroke-width="1.0"/>
<line x1="297.70" y1="152.20" x2="297.70" y2="184.50" stroke="#bcbcbc" stroke-width="1.0"/>
<line x1="309.40" y1="144.40" x2="309.40" y2="184.50" stroke="#bcbcbc" stroke-width="1.0"/>
<line x1="356.68" y1="144.40" x2="356.68" y2="184.50" stroke="#bcbcbc" stroke-width="1.0"/>
<line x1="403.96" y1="144.40" x2="403.96" y2="184.50" stroke="#bcbcbc" stroke-width="1.0"/>
<line x1="451.24" y1="144.40" x2="451.24" y2="184.50" stroke="#bcbcbc" stroke-width="1.0"/>
<line x1="498.52" y1="144.40" x2="498.52" y2="184.50" stroke="#bcbcbc" stroke-width="1.0"/>
<line x1="545.80" y1="144.40" x2="545.80" y2="184.50" stroke="#bcbcbc" stroke-width="1.0"/>
<line x1="299.30" y1="156.30" x2="306.20" y2="156.30" stroke="#ff44ff" stroke-width="0.8" stroke-dasharray="1 0.8"/>
<circle cx="302.75" cy="156.30" r="1.78" fill="#fff" stroke="#ff00ff" stroke-width="1.37"/>
<line x1="308.20" y1="157.50" x2="308.20" y2="158.90" stroke="#aaa" stroke-width="0.5"/>
<line x1="299.30" y1="164.45" x2="306.20" y2="164.45" stroke="#5ab4f0" stroke-width="0.8" stroke-dasharray="1 0.8"/>
<path d="M302.75,162.98 L304.59,165.87 L300.91,165.87Z" fill="#fff" stroke="#30a4ee" stroke-width="0.95"/>
<line x1="308.20" y1="165.65" x2="308.20" y2="167.05" stroke="#aaa" stroke-width="0.5"/>
<line x1="299.30" y1="172.45" x2="306.20" y2="172.45" stroke="#ff3030" stroke-width="0.8"/>
<circle cx="302.75" cy="172.45" r="1.99" fill="#ff1a1a"/>
<line x1="308.20" y1="173.65" x2="308.20" y2="175.05" stroke="#aaa" stroke-width="0.5"/>
<line x1="299.30" y1="180.45" x2="306.20" y2="180.45" stroke="#2a80d0" stroke-width="0.8"/>
<path d="M302.75,178.77 L304.64,182.55 L300.86,182.55Z" fill="#1b6fc8"/>
<line x1="308.20" y1="181.65" x2="308.20" y2="183.05" stroke="#aaa" stroke-width="0.5"/>
<text x="333.0" y="150.6" font-size="5.3" fill="#222222" stroke="#222222" stroke-width="0.3" text-anchor="middle" textLength="7.0" lengthAdjust="spacingAndGlyphs">1m</text>
<text x="380.3" y="150.6" font-size="5.3" fill="#222222" stroke="#222222" stroke-width="0.3" text-anchor="middle" textLength="7.0" lengthAdjust="spacingAndGlyphs">2m</text>
<text x="427.6" y="150.6" font-size="5.3" fill="#222222" stroke="#222222" stroke-width="0.3" text-anchor="middle" textLength="7.0" lengthAdjust="spacingAndGlyphs">3m</text>
<text x="474.9" y="150.6" font-size="5.3" fill="#222222" stroke="#222222" stroke-width="0.3" text-anchor="middle" textLength="7.0" lengthAdjust="spacingAndGlyphs">4m</text>
<text x="522.2" y="150.6" font-size="5.3" fill="#222222" stroke="#222222" stroke-width="0.3" text-anchor="middle" textLength="7.0" lengthAdjust="spacingAndGlyphs">5m</text>
<text x="333.0" y="158.7" font-size="5.3" fill="#222222" stroke="#222222" stroke-width="0.3" text-anchor="middle" textLength="10.7" lengthAdjust="spacingAndGlyphs">2058</text>
<text x="380.3" y="158.7" font-size="5.3" fill="#222222" stroke="#222222" stroke-width="0.3" text-anchor="middle" textLength="10.7" lengthAdjust="spacingAndGlyphs">1266</text>
<text x="427.6" y="158.7" font-size="5.3" fill="#222222" stroke="#222222" stroke-width="0.3" text-anchor="middle" textLength="8.1" lengthAdjust="spacingAndGlyphs">718</text>
<text x="474.9" y="158.7" font-size="5.3" fill="#222222" stroke="#222222" stroke-width="0.3" text-anchor="middle" textLength="8.1" lengthAdjust="spacingAndGlyphs">444</text>
<text x="522.2" y="158.7" font-size="5.3" fill="#222222" stroke="#222222" stroke-width="0.3" text-anchor="middle" textLength="8.1" lengthAdjust="spacingAndGlyphs">294</text>
<text x="333.0" y="166.8" font-size="5.3" fill="#222222" stroke="#222222" stroke-width="0.3" text-anchor="middle" textLength="10.7" lengthAdjust="spacingAndGlyphs">1929</text>
<text x="380.3" y="166.8" font-size="5.3" fill="#222222" stroke="#222222" stroke-width="0.3" text-anchor="middle" textLength="10.7" lengthAdjust="spacingAndGlyphs">1185</text>
<text x="427.6" y="166.8" font-size="5.3" fill="#222222" stroke="#222222" stroke-width="0.3" text-anchor="middle" textLength="8.1" lengthAdjust="spacingAndGlyphs">683</text>
<text x="474.9" y="166.8" font-size="5.3" fill="#222222" stroke="#222222" stroke-width="0.3" text-anchor="middle" textLength="8.1" lengthAdjust="spacingAndGlyphs">431</text>
<text x="522.2" y="166.8" font-size="5.3" fill="#222222" stroke="#222222" stroke-width="0.3" text-anchor="middle" textLength="8.1" lengthAdjust="spacingAndGlyphs">290</text>
<text x="333.0" y="174.8" font-size="5.3" fill="#222222" stroke="#222222" stroke-width="0.3" text-anchor="middle" textLength="8.1" lengthAdjust="spacingAndGlyphs">507</text>
<text x="380.3" y="174.8" font-size="5.3" fill="#222222" stroke="#222222" stroke-width="0.3" text-anchor="middle" textLength="8.1" lengthAdjust="spacingAndGlyphs">232</text>
<text x="427.6" y="174.8" font-size="5.3" fill="#222222" stroke="#222222" stroke-width="0.3" text-anchor="middle" textLength="8.1" lengthAdjust="spacingAndGlyphs">111</text>
<text x="474.9" y="174.8" font-size="5.3" fill="#222222" stroke="#222222" stroke-width="0.3" text-anchor="middle" textLength="5.4" lengthAdjust="spacingAndGlyphs">67</text>
<text x="522.2" y="174.8" font-size="5.3" fill="#222222" stroke="#222222" stroke-width="0.3" text-anchor="middle" textLength="5.4" lengthAdjust="spacingAndGlyphs">37</text>
<text x="333.0" y="182.8" font-size="5.3" fill="#222222" stroke="#222222" stroke-width="0.3" text-anchor="middle" textLength="8.1" lengthAdjust="spacingAndGlyphs">466</text>
<text x="380.3" y="182.8" font-size="5.3" fill="#222222" stroke="#222222" stroke-width="0.3" text-anchor="middle" textLength="8.1" lengthAdjust="spacingAndGlyphs">213</text>
<text x="427.6" y="182.8" font-size="5.3" fill="#222222" stroke="#222222" stroke-width="0.3" text-anchor="middle" textLength="5.4" lengthAdjust="spacingAndGlyphs">99</text>
<text x="474.9" y="182.8" font-size="5.3" fill="#222222" stroke="#222222" stroke-width="0.3" text-anchor="middle" textLength="5.4" lengthAdjust="spacingAndGlyphs">61</text>
<text x="522.2" y="182.8" font-size="5.3" fill="#222222" stroke="#222222" stroke-width="0.3" text-anchor="middle" textLength="5.4" lengthAdjust="spacingAndGlyphs">34</text>
<text x="282.6" y="163.2" font-size="6.4" font-weight="bold" fill="#1a1a1a" stroke="#1a1a1a" stroke-width="0.22" textLength="11.9" lengthAdjust="spacingAndGlyphs">No.B</text>
<text x="283.7" y="179.2" font-size="6.4" font-weight="bold" fill="#1a1a1a" stroke="#1a1a1a" stroke-width="0.22" textLength="12.8" lengthAdjust="spacingAndGlyphs">B.60˚</text>
<rect x="6.4" y="194.5" width="267.5" height="11.7" rx="1" fill="#fff" stroke="#c0c0c0" stroke-width="0.8"/>
<line x1="15.80" y1="198.30" x2="34.40" y2="198.30" stroke="#f25050" stroke-width="0.8"/>
<line x1="15.80" y1="202.90" x2="34.40" y2="202.90" stroke="#ff55ff" stroke-width="0.8" stroke-dasharray="0.8 0.7"/>
<circle cx="25.00" cy="197.60" r="2.28" fill="#ff1a1a"/>
<circle cx="25.00" cy="202.90" r="1.95" fill="#fff" stroke="#ff00ff" stroke-width="1.49"/>
<text x="38.4" y="202.9" font-size="6.4" font-weight="bold" fill="#111" stroke="#111" stroke-width="0.3" textLength="110.6" lengthAdjust="spacingAndGlyphs">Modified Daylight Illuminance Eq.</text>
<line x1="164.10" y1="198.30" x2="183.50" y2="198.30" stroke="#3d85d8" stroke-width="0.8"/>
<line x1="164.10" y1="203.00" x2="183.50" y2="203.00" stroke="#7cbcf0" stroke-width="0.8" stroke-dasharray="1 0.7"/>
<path d="M174.10,195.53 L176.26,199.85 L171.94,199.85Z" fill="#1b6fc8"/>
<path d="M174.10,200.94 L176.55,204.79 L171.65,204.79Z" fill="#fff" stroke="#30a4ee" stroke-width="1.26"/>
<text x="187.8" y="202.9" font-size="6.4" font-weight="bold" fill="#111" stroke="#111" stroke-width="0.3" textLength="58.1" lengthAdjust="spacingAndGlyphs">Desktop Radiance</text>
<line x1="38.50" y1="320.92" x2="273.90" y2="320.92" stroke="#f0f0f0" stroke-width="1.0"/>
<line x1="38.50" y1="307.24" x2="273.90" y2="307.24" stroke="#f0f0f0" stroke-width="1.0"/>
<line x1="38.50" y1="293.57" x2="273.90" y2="293.57" stroke="#f0f0f0" stroke-width="1.0"/>
<line x1="38.50" y1="279.89" x2="273.90" y2="279.89" stroke="#f0f0f0" stroke-width="1.0"/>
<line x1="38.50" y1="266.21" x2="273.90" y2="266.21" stroke="#f0f0f0" stroke-width="1.0"/>
<line x1="38.50" y1="252.53" x2="273.90" y2="252.53" stroke="#f0f0f0" stroke-width="1.0"/>
<line x1="38.50" y1="238.86" x2="273.90" y2="238.86" stroke="#f0f0f0" stroke-width="1.0"/>
<line x1="38.50" y1="225.18" x2="273.90" y2="225.18" stroke="#f0f0f0" stroke-width="1.0"/>
<rect x="38.5" y="211.5" width="235.4" height="123.1" fill="none" stroke="#c0c0c0" stroke-width="0.8"/>
<rect x="92" y="262" width="55.7" height="17.5" fill="#fff"/>
<rect x="152" y="229" width="116.0" height="21.5" fill="#fff"/>
<rect x="64.5" y="303.5" width="30.5" height="21.5" fill="#fff"/>
<rect x="67.5" y="222.1" width="12.1" height="7.2" fill="#fff"/>
<rect x="116.8" y="307.0" width="12.0" height="7.2" fill="#fff"/>
<rect x="158.8" y="309.1" width="11.5" height="7.2" fill="#fff"/>
<rect x="200.6" y="310.4" width="11.5" height="7.2" fill="#fff"/>
<rect x="243.8" y="311.7" width="11.8" height="7.2" fill="#fff"/>
<rect x="42.6" y="319.7" width="15.9" height="7.2" fill="#fff"/>
<rect x="113.1" y="316.5" width="15.7" height="7.2" fill="#fff"/>
<rect x="154.6" y="317.7" width="15.7" height="7.2" fill="#fff"/>
<rect x="197.0" y="318.8" width="15.1" height="7.2" fill="#fff"/>
<rect x="243.4" y="320.4" width="12.2" height="7.2" fill="#fff"/>
<rect x="63.7" y="277.5" width="12.9" height="7.2" fill="#fff"/>
<text x="12.6" y="214.0" font-size="5.9" font-weight="bold" fill="#111" stroke="#111" stroke-width="0.36" textLength="17.9" lengthAdjust="spacingAndGlyphs">45,000</text>
<text x="12.6" y="227.7" font-size="5.9" font-weight="bold" fill="#111" stroke="#111" stroke-width="0.36" textLength="17.9" lengthAdjust="spacingAndGlyphs">40,000</text>
<text x="12.6" y="241.3" font-size="5.9" font-weight="bold" fill="#111" stroke="#111" stroke-width="0.36" textLength="17.9" lengthAdjust="spacingAndGlyphs">35,000</text>
<text x="12.6" y="255.0" font-size="5.9" font-weight="bold" fill="#111" stroke="#111" stroke-width="0.36" textLength="17.9" lengthAdjust="spacingAndGlyphs">30,000</text>
<text x="12.6" y="268.7" font-size="5.9" font-weight="bold" fill="#111" stroke="#111" stroke-width="0.36" textLength="17.9" lengthAdjust="spacingAndGlyphs">25,000</text>
<text x="12.6" y="282.4" font-size="5.9" font-weight="bold" fill="#111" stroke="#111" stroke-width="0.36" textLength="17.9" lengthAdjust="spacingAndGlyphs">20,000</text>
<text x="12.6" y="296.0" font-size="5.9" font-weight="bold" fill="#111" stroke="#111" stroke-width="0.36" textLength="17.9" lengthAdjust="spacingAndGlyphs">15,000</text>
<text x="12.9" y="309.7" font-size="5.9" font-weight="bold" fill="#111" stroke="#111" stroke-width="0.36" textLength="18.0" lengthAdjust="spacingAndGlyphs">10,000</text>
<text x="16.1" y="323.4" font-size="5.9" font-weight="bold" fill="#111" stroke="#111" stroke-width="0.36" textLength="12.6" lengthAdjust="spacingAndGlyphs">5000</text>
<text transform="translate(10.4,273.3) rotate(-90)" x="0" y="0" text-anchor="middle" font-size="7" font-weight="bold" fill="#1a1a1a" stroke="#1a1a1a" stroke-width="0.3" textLength="97.6" lengthAdjust="spacingAndGlyphs">Indoor Daylight Illuminance (lx)</text>
<g transform="translate(214.1,252.4)"><rect x="0" y="0" width="52.6" height="48.9" fill="#fff" stroke="#7f9fd6" stroke-width="0.8"/><rect x="37.6" y="0" width="2.6" height="48.9" fill="#cddff5"/><line x1="37.6" y1="0" x2="37.6" y2="48.9" stroke="#6b9ce0" stroke-width="0.85"/><line x1="40.2" y1="0" x2="40.2" y2="48.9" stroke="#6b9ce0" stroke-width="0.85"/><line x1="26.9" y1="33" x2="26.9" y2="48.9" stroke="#cccccc" stroke-width="0.5"/><circle cx="4.3" cy="4.7" r="4.3" fill="#f44646"/><line x1="10.6" y1="4.7" x2="16.9" y2="4.7" stroke="#f44a4a" stroke-width="1.1"/><line x1="9" y1="9" x2="13.8" y2="13.9" stroke="#f44a4a" stroke-width="1.1"/><line x1="4.3" y1="11.5" x2="4.3" y2="17.8" stroke="#f44a4a" stroke-width="1.1"/>
<line x1="29.7" y1="0.9" x2="23.9" y2="11.8" stroke="#a266da" stroke-width="2.7"/>
<line x1="29.7" y1="12.2" x2="23.9" y2="23.1" stroke="#a266da" stroke-width="2.7"/>
<line x1="29.7" y1="23.5" x2="23.9" y2="34.4" stroke="#a266da" stroke-width="2.7"/>
<line x1="29.7" y1="34.8" x2="23.9" y2="45.7" stroke="#a266da" stroke-width="2.7"/>
</g>
<line x1="61.80" y1="241.00" x2="61.80" y2="322.70" stroke="#c6c6c6" stroke-width="0.85"/>
<path d="M60.35,322.40 L63.25,322.40 L61.80,324.90Z" fill="#111"/>
<line x1="38.50" y1="334.60" x2="273.90" y2="334.60" stroke="#b4b4b4" stroke-width="1.1"/>
<path d="M62.04,227.36 L109.12,329.03 L156.20,331.36 L203.28,332.64 L250.36,333.25" fill="none" stroke="#ff00ff" stroke-width="1.05" stroke-dasharray="1.0 1.1"/>
<path d="M62.04,234.88 L109.12,329.42 L156.20,331.56 L203.28,332.70 L250.36,333.29" fill="none" stroke="#30a4ee" stroke-width="0.95" stroke-dasharray="1.4 1.1"/>
<path d="M62.04,332.95 L109.12,333.65 L156.20,334.14 L203.28,334.29 L250.36,334.44" fill="none" stroke="#ff1a1a" stroke-width="1.2"/>
<path d="M62.04,333.10 L109.12,333.74 L156.20,334.19 L203.28,334.33 L250.36,334.46" fill="none" stroke="#1b6fc8" stroke-width="1.45"/>
<circle cx="62.04" cy="227.36" r="1.70" fill="#fff" stroke="#ff00ff" stroke-width="1.30"/>
<circle cx="109.12" cy="329.03" r="1.70" fill="#fff" stroke="#ff00ff" stroke-width="1.30"/>
<circle cx="156.20" cy="331.36" r="1.70" fill="#fff" stroke="#ff00ff" stroke-width="1.30"/>
<circle cx="203.28" cy="332.64" r="1.70" fill="#fff" stroke="#ff00ff" stroke-width="1.30"/>
<circle cx="250.36" cy="333.25" r="1.70" fill="#fff" stroke="#ff00ff" stroke-width="1.30"/>
<path d="M62.04,233.48 L63.79,236.23 L60.29,236.23Z" fill="#fff" stroke="#30a4ee" stroke-width="0.90"/>
<path d="M109.12,328.02 L110.87,330.77 L107.37,330.77Z" fill="#fff" stroke="#30a4ee" stroke-width="0.90"/>
<path d="M156.20,330.16 L157.95,332.91 L154.45,332.91Z" fill="#fff" stroke="#30a4ee" stroke-width="0.90"/>
<path d="M203.28,331.30 L205.03,334.05 L201.53,334.05Z" fill="#fff" stroke="#30a4ee" stroke-width="0.90"/>
<path d="M250.36,331.89 L252.11,334.64 L248.61,334.64Z" fill="#fff" stroke="#30a4ee" stroke-width="0.90"/>
<circle cx="62.04" cy="332.95" r="1.90" fill="#ff1a1a"/>
<circle cx="109.12" cy="333.65" r="1.90" fill="#ff1a1a"/>
<circle cx="156.20" cy="334.14" r="1.90" fill="#ff1a1a"/>
<circle cx="203.28" cy="334.29" r="1.90" fill="#ff1a1a"/>
<circle cx="250.36" cy="334.44" r="1.90" fill="#ff1a1a"/>
<path d="M62.04,331.50 L63.84,335.10 L60.24,335.10Z" fill="#1b6fc8"/>
<path d="M109.12,332.14 L110.92,335.74 L107.32,335.74Z" fill="#1b6fc8"/>
<path d="M156.20,332.59 L158.00,336.19 L154.40,336.19Z" fill="#1b6fc8"/>
<path d="M203.28,332.73 L205.08,336.33 L201.48,336.33Z" fill="#1b6fc8"/>
<path d="M250.36,332.86 L252.16,336.46 L248.56,336.46Z" fill="#1b6fc8"/>
<text x="99.5" y="224.4" font-size="8.6" font-weight="bold" fill="#111" stroke="#111" stroke-width="0.3" textLength="167.6" lengthAdjust="spacingAndGlyphs">&lt;C&gt; External Venetian Blind 60˚ (VLT : 0.204)</text>
<text x="166.9" y="237.0" font-size="7.5" font-weight="bold" fill="#ff0000" stroke="#ff0000" stroke-width="0.1" textLength="100.2" lengthAdjust="spacingAndGlyphs">Modified Daylight Illuminance</text>
<text x="154.0" y="247.6" font-size="7.5" font-weight="bold" fill="#ff0000" stroke="#ff0000" stroke-width="0.1" textLength="113.1" lengthAdjust="spacingAndGlyphs">Equation's Avg. Error Rate : 10.3%</text>
<text x="93.1" y="270.2" font-size="6.8" font-weight="bold" fill="#595959" stroke="#595959" stroke-width="0.22" textLength="52.7" lengthAdjust="spacingAndGlyphs">(No Blind: Fig. 16)</text>
<text x="116.7" y="278.8" font-size="6.5" fill="#606060" stroke="#606060" stroke-width="0.15" textLength="28.4" lengthAdjust="spacingAndGlyphs">9.21 14:00</text>
<text x="64.9" y="283.1" font-size="5.6" font-weight="bold" fill="#111" stroke="#111" stroke-width="0.22" textLength="10.5" lengthAdjust="spacingAndGlyphs">98%</text>
<text x="65.7" y="312.3" font-size="7.2" font-weight="bold" fill="#111" stroke="#111" stroke-width="0.22" textLength="28.1" lengthAdjust="spacingAndGlyphs">Venetian</text>
<text x="65.7" y="322.3" font-size="7.2" font-weight="bold" fill="#111" stroke="#111" stroke-width="0.22" textLength="28.1" lengthAdjust="spacingAndGlyphs">Blind 60˚</text>
<text x="68.7" y="228.3" font-size="8.0" fill="#505050" stroke="#505050" stroke-width="0.32" textLength="9.7" lengthAdjust="spacingAndGlyphs">8%</text>
<text x="118.0" y="313.2" font-size="8.0" fill="#505050" stroke="#505050" stroke-width="0.32" textLength="9.6" lengthAdjust="spacingAndGlyphs">8%</text>
<text x="160.0" y="315.3" font-size="8.0" fill="#505050" stroke="#505050" stroke-width="0.32" textLength="9.1" lengthAdjust="spacingAndGlyphs">7%</text>
<text x="201.8" y="316.6" font-size="8.0" fill="#505050" stroke="#505050" stroke-width="0.32" textLength="9.1" lengthAdjust="spacingAndGlyphs">4%</text>
<text x="245.0" y="317.9" font-size="8.0" fill="#505050" stroke="#505050" stroke-width="0.32" textLength="9.4" lengthAdjust="spacingAndGlyphs">3%</text>
<text x="43.8" y="325.9" font-size="7.9" fill="#ff0000" stroke="#ff0000" stroke-width="0.45" textLength="13.5" lengthAdjust="spacingAndGlyphs">10%</text>
<text x="114.3" y="322.7" font-size="7.9" fill="#ff0000" stroke="#ff0000" stroke-width="0.45" textLength="13.3" lengthAdjust="spacingAndGlyphs">11%</text>
<text x="155.8" y="323.9" font-size="7.9" fill="#ff0000" stroke="#ff0000" stroke-width="0.45" textLength="13.3" lengthAdjust="spacingAndGlyphs">11%</text>
<text x="198.2" y="325.0" font-size="7.9" fill="#ff0000" stroke="#ff0000" stroke-width="0.45" textLength="12.7" lengthAdjust="spacingAndGlyphs">12%</text>
<text x="244.6" y="326.6" font-size="7.9" fill="#ff0000" stroke="#ff0000" stroke-width="0.45" textLength="9.8" lengthAdjust="spacingAndGlyphs">8%</text>
<line x1="26.60" y1="343.00" x2="273.90" y2="343.00" stroke="#bcbcbc" stroke-width="1.0"/>
<line x1="26.60" y1="350.60" x2="273.90" y2="350.60" stroke="#bcbcbc" stroke-width="1.0"/>
<line x1="26.60" y1="358.60" x2="273.90" y2="358.60" stroke="#bcbcbc" stroke-width="1.0"/>
<line x1="26.60" y1="366.60" x2="273.90" y2="366.60" stroke="#bcbcbc" stroke-width="1.0"/>
<line x1="26.60" y1="374.40" x2="273.90" y2="374.40" stroke="#bcbcbc" stroke-width="1.0"/>
<line x1="26.60" y1="343.00" x2="26.60" y2="374.40" stroke="#bcbcbc" stroke-width="1.0"/>
<line x1="38.50" y1="334.60" x2="38.50" y2="374.40" stroke="#bcbcbc" stroke-width="1.0"/>
<line x1="85.58" y1="334.60" x2="85.58" y2="374.40" stroke="#bcbcbc" stroke-width="1.0"/>
<line x1="132.66" y1="334.60" x2="132.66" y2="374.40" stroke="#bcbcbc" stroke-width="1.0"/>
<line x1="179.74" y1="334.60" x2="179.74" y2="374.40" stroke="#bcbcbc" stroke-width="1.0"/>
<line x1="226.82" y1="334.60" x2="226.82" y2="374.40" stroke="#bcbcbc" stroke-width="1.0"/>
<line x1="273.90" y1="334.60" x2="273.90" y2="374.40" stroke="#bcbcbc" stroke-width="1.0"/>
<line x1="28.20" y1="346.80" x2="35.30" y2="346.80" stroke="#ff44ff" stroke-width="0.8" stroke-dasharray="1 0.8"/>
<circle cx="31.75" cy="346.80" r="1.78" fill="#fff" stroke="#ff00ff" stroke-width="1.37"/>
<line x1="37.30" y1="348.00" x2="37.30" y2="349.40" stroke="#aaa" stroke-width="0.5"/>
<line x1="28.20" y1="354.60" x2="35.30" y2="354.60" stroke="#5ab4f0" stroke-width="0.8" stroke-dasharray="1 0.8"/>
<path d="M31.75,353.13 L33.59,356.02 L29.91,356.02Z" fill="#fff" stroke="#30a4ee" stroke-width="0.95"/>
<line x1="37.30" y1="355.80" x2="37.30" y2="357.20" stroke="#aaa" stroke-width="0.5"/>
<line x1="28.20" y1="362.60" x2="35.30" y2="362.60" stroke="#ff3030" stroke-width="0.8"/>
<circle cx="31.75" cy="362.60" r="1.99" fill="#ff1a1a"/>
<line x1="37.30" y1="363.80" x2="37.30" y2="365.20" stroke="#aaa" stroke-width="0.5"/>
<line x1="28.20" y1="370.50" x2="35.30" y2="370.50" stroke="#2a80d0" stroke-width="0.8"/>
<path d="M31.75,368.82 L33.64,372.60 L29.86,372.60Z" fill="#1b6fc8"/>
<line x1="37.30" y1="371.70" x2="37.30" y2="373.10" stroke="#aaa" stroke-width="0.5"/>
<text x="62.0" y="341.1" font-size="5.3" fill="#222222" stroke="#222222" stroke-width="0.3" text-anchor="middle" textLength="7.0" lengthAdjust="spacingAndGlyphs">1m</text>
<text x="109.1" y="341.1" font-size="5.3" fill="#222222" stroke="#222222" stroke-width="0.3" text-anchor="middle" textLength="7.0" lengthAdjust="spacingAndGlyphs">2m</text>
<text x="156.2" y="341.1" font-size="5.3" fill="#222222" stroke="#222222" stroke-width="0.3" text-anchor="middle" textLength="7.0" lengthAdjust="spacingAndGlyphs">3m</text>
<text x="203.3" y="341.1" font-size="5.3" fill="#222222" stroke="#222222" stroke-width="0.3" text-anchor="middle" textLength="7.0" lengthAdjust="spacingAndGlyphs">4m</text>
<text x="250.4" y="341.1" font-size="5.3" fill="#222222" stroke="#222222" stroke-width="0.3" text-anchor="middle" textLength="7.0" lengthAdjust="spacingAndGlyphs">5m</text>
<text x="62.0" y="349.2" font-size="5.3" fill="#222222" stroke="#222222" stroke-width="0.3" text-anchor="middle" textLength="14.8" lengthAdjust="spacingAndGlyphs">39,203</text>
<text x="109.1" y="349.2" font-size="5.3" fill="#222222" stroke="#222222" stroke-width="0.3" text-anchor="middle" textLength="10.7" lengthAdjust="spacingAndGlyphs">2036</text>
<text x="156.2" y="349.2" font-size="5.3" fill="#222222" stroke="#222222" stroke-width="0.3" text-anchor="middle" textLength="10.7" lengthAdjust="spacingAndGlyphs">1185</text>
<text x="203.3" y="349.2" font-size="5.3" fill="#222222" stroke="#222222" stroke-width="0.3" text-anchor="middle" textLength="8.1" lengthAdjust="spacingAndGlyphs">718</text>
<text x="250.4" y="349.2" font-size="5.3" fill="#222222" stroke="#222222" stroke-width="0.3" text-anchor="middle" textLength="8.1" lengthAdjust="spacingAndGlyphs">495</text>
<text x="62.0" y="357.0" font-size="5.3" fill="#222222" stroke="#222222" stroke-width="0.3" text-anchor="middle" textLength="14.8" lengthAdjust="spacingAndGlyphs">36,454</text>
<text x="109.1" y="357.0" font-size="5.3" fill="#222222" stroke="#222222" stroke-width="0.3" text-anchor="middle" textLength="10.7" lengthAdjust="spacingAndGlyphs">1893</text>
<text x="156.2" y="357.0" font-size="5.3" fill="#222222" stroke="#222222" stroke-width="0.3" text-anchor="middle" textLength="10.7" lengthAdjust="spacingAndGlyphs">1113</text>
<text x="203.3" y="357.0" font-size="5.3" fill="#222222" stroke="#222222" stroke-width="0.3" text-anchor="middle" textLength="8.1" lengthAdjust="spacingAndGlyphs">693</text>
<text x="250.4" y="357.0" font-size="5.3" fill="#222222" stroke="#222222" stroke-width="0.3" text-anchor="middle" textLength="8.1" lengthAdjust="spacingAndGlyphs">479</text>
<text x="62.0" y="365.0" font-size="5.3" fill="#222222" stroke="#222222" stroke-width="0.3" text-anchor="middle" textLength="8.1" lengthAdjust="spacingAndGlyphs">603</text>
<text x="109.1" y="365.0" font-size="5.3" fill="#222222" stroke="#222222" stroke-width="0.3" text-anchor="middle" textLength="8.1" lengthAdjust="spacingAndGlyphs">347</text>
<text x="156.2" y="365.0" font-size="5.3" fill="#222222" stroke="#222222" stroke-width="0.3" text-anchor="middle" textLength="8.1" lengthAdjust="spacingAndGlyphs">168</text>
<text x="203.3" y="365.0" font-size="5.3" fill="#222222" stroke="#222222" stroke-width="0.3" text-anchor="middle" textLength="8.1" lengthAdjust="spacingAndGlyphs">112</text>
<text x="250.4" y="365.0" font-size="5.3" fill="#222222" stroke="#222222" stroke-width="0.3" text-anchor="middle" textLength="5.4" lengthAdjust="spacingAndGlyphs">57</text>
<text x="62.0" y="372.9" font-size="5.3" fill="#222222" stroke="#222222" stroke-width="0.3" text-anchor="middle" textLength="8.1" lengthAdjust="spacingAndGlyphs">548</text>
<text x="109.1" y="372.9" font-size="5.3" fill="#222222" stroke="#222222" stroke-width="0.3" text-anchor="middle" textLength="8.1" lengthAdjust="spacingAndGlyphs">313</text>
<text x="156.2" y="372.9" font-size="5.3" fill="#222222" stroke="#222222" stroke-width="0.3" text-anchor="middle" textLength="8.1" lengthAdjust="spacingAndGlyphs">151</text>
<text x="203.3" y="372.9" font-size="5.3" fill="#222222" stroke="#222222" stroke-width="0.3" text-anchor="middle" textLength="8.1" lengthAdjust="spacingAndGlyphs">100</text>
<text x="250.4" y="372.9" font-size="5.3" fill="#222222" stroke="#222222" stroke-width="0.3" text-anchor="middle" textLength="5.4" lengthAdjust="spacingAndGlyphs">53</text>
<text x="7.3" y="352.9" font-size="6.4" font-weight="bold" fill="#1a1a1a" stroke="#1a1a1a" stroke-width="0.22" textLength="11.9" lengthAdjust="spacingAndGlyphs">No.B</text>
<text x="7.9" y="368.5" font-size="6.4" font-weight="bold" fill="#1a1a1a" stroke="#1a1a1a" stroke-width="0.22" textLength="12.9" lengthAdjust="spacingAndGlyphs">B.60˚</text>
<rect x="281.6" y="194.5" width="264.4" height="11.7" rx="1" fill="#fff" stroke="#c0c0c0" stroke-width="0.8"/>
<line x1="290.20" y1="198.20" x2="309.50" y2="198.20" stroke="#f25050" stroke-width="0.8"/>
<line x1="290.20" y1="202.80" x2="309.50" y2="202.80" stroke="#ff55ff" stroke-width="0.8" stroke-dasharray="0.8 0.7"/>
<circle cx="299.70" cy="197.40" r="2.28" fill="#ff1a1a"/>
<circle cx="299.70" cy="202.80" r="1.95" fill="#fff" stroke="#ff00ff" stroke-width="1.49"/>
<text x="313.4" y="202.9" font-size="6.4" font-weight="bold" fill="#111" stroke="#111" stroke-width="0.3" textLength="109.0" lengthAdjust="spacingAndGlyphs">Modified Daylight Illuminance Eq.</text>
<line x1="438.20" y1="198.20" x2="457.30" y2="198.20" stroke="#3d85d8" stroke-width="0.8"/>
<line x1="438.20" y1="202.90" x2="457.30" y2="202.90" stroke="#7cbcf0" stroke-width="0.8" stroke-dasharray="1 0.7"/>
<path d="M448.00,195.43 L450.16,199.75 L445.84,199.75Z" fill="#1b6fc8"/>
<path d="M448.00,200.84 L450.45,204.69 L445.55,204.69Z" fill="#fff" stroke="#30a4ee" stroke-width="1.26"/>
<text x="462.2" y="202.9" font-size="6.4" font-weight="bold" fill="#111" stroke="#111" stroke-width="0.3" textLength="57.2" lengthAdjust="spacingAndGlyphs">Desktop Radiance</text>
<line x1="312.70" y1="314.15" x2="546.00" y2="314.15" stroke="#f0f0f0" stroke-width="1.0"/>
<line x1="312.70" y1="293.60" x2="546.00" y2="293.60" stroke="#f0f0f0" stroke-width="1.0"/>
<line x1="312.70" y1="273.05" x2="546.00" y2="273.05" stroke="#f0f0f0" stroke-width="1.0"/>
<line x1="312.70" y1="252.50" x2="546.00" y2="252.50" stroke="#f0f0f0" stroke-width="1.0"/>
<line x1="312.70" y1="231.95" x2="546.00" y2="231.95" stroke="#f0f0f0" stroke-width="1.0"/>
<rect x="312.7" y="211.4" width="233.3" height="123.3" fill="none" stroke="#c0c0c0" stroke-width="0.8"/>
<rect x="367.5" y="267" width="55.0" height="18.0" fill="#fff"/>
<rect x="426" y="229" width="115.0" height="21.5" fill="#fff"/>
<rect x="339.5" y="299.5" width="30.0" height="21.5" fill="#fff"/>
<rect x="336.8" y="223.0" width="15.4" height="7.2" fill="#fff"/>
<rect x="391.6" y="299.3" width="11.4" height="7.2" fill="#fff"/>
<rect x="433.5" y="303.1" width="11.5" height="7.2" fill="#fff"/>
<rect x="473.7" y="306.2" width="11.3" height="7.2" fill="#fff"/>
<rect x="517.7" y="309.0" width="11.3" height="7.2" fill="#fff"/>
<rect x="317.7" y="320.2" width="15.7" height="7.2" fill="#fff"/>
<rect x="388.0" y="307.5" width="15.0" height="7.2" fill="#fff"/>
<rect x="429.2" y="312.0" width="15.8" height="7.2" fill="#fff"/>
<rect x="472.9" y="314.6" width="12.1" height="7.2" fill="#fff"/>
<rect x="517.7" y="317.1" width="11.3" height="7.2" fill="#fff"/>
<rect x="338.8" y="280.7" width="12.9" height="7.2" fill="#fff"/>
<text x="287.6" y="213.9" font-size="5.9" font-weight="bold" fill="#111" stroke="#111" stroke-width="0.36" textLength="17.9" lengthAdjust="spacingAndGlyphs">30,000</text>
<text x="287.6" y="234.4" font-size="5.9" font-weight="bold" fill="#111" stroke="#111" stroke-width="0.36" textLength="17.9" lengthAdjust="spacingAndGlyphs">25,000</text>
<text x="287.6" y="255.0" font-size="5.9" font-weight="bold" fill="#111" stroke="#111" stroke-width="0.36" textLength="17.9" lengthAdjust="spacingAndGlyphs">20,000</text>
<text x="287.9" y="275.5" font-size="5.9" font-weight="bold" fill="#111" stroke="#111" stroke-width="0.36" textLength="17.8" lengthAdjust="spacingAndGlyphs">15,000</text>
<text x="287.9" y="296.1" font-size="5.9" font-weight="bold" fill="#111" stroke="#111" stroke-width="0.36" textLength="17.8" lengthAdjust="spacingAndGlyphs">10,000</text>
<text x="290.7" y="316.6" font-size="5.9" font-weight="bold" fill="#111" stroke="#111" stroke-width="0.36" textLength="13.1" lengthAdjust="spacingAndGlyphs">5000</text>
<text transform="translate(285.2,273.3) rotate(-90)" x="0" y="0" text-anchor="middle" font-size="7" font-weight="bold" fill="#1a1a1a" stroke="#1a1a1a" stroke-width="0.3" textLength="97.6" lengthAdjust="spacingAndGlyphs">Indoor Daylight Illuminance (lx)</text>
<g transform="translate(487.4,252.2)"><rect x="0" y="0" width="53.0" height="49.1" fill="#fff" stroke="#7f9fd6" stroke-width="0.8"/><rect x="37.6" y="0" width="2.6" height="49.1" fill="#cddff5"/><line x1="37.6" y1="0" x2="37.6" y2="49.1" stroke="#6b9ce0" stroke-width="0.85"/><line x1="40.2" y1="0" x2="40.2" y2="49.1" stroke="#6b9ce0" stroke-width="0.85"/><line x1="26.9" y1="33" x2="26.9" y2="49.1" stroke="#cccccc" stroke-width="0.5"/><circle cx="4.3" cy="4.7" r="4.3" fill="#f44646"/><line x1="10.6" y1="4.7" x2="16.9" y2="4.7" stroke="#f44a4a" stroke-width="1.1"/><line x1="9" y1="9" x2="13.8" y2="13.9" stroke="#f44a4a" stroke-width="1.1"/><line x1="4.3" y1="11.5" x2="4.3" y2="17.8" stroke="#f44a4a" stroke-width="1.1"/>
<line x1="29.7" y1="0.9" x2="23.9" y2="11.8" stroke="#a266da" stroke-width="2.7"/>
<line x1="29.7" y1="12.2" x2="23.9" y2="23.1" stroke="#a266da" stroke-width="2.7"/>
<line x1="29.7" y1="23.5" x2="23.9" y2="34.4" stroke="#a266da" stroke-width="2.7"/>
<line x1="29.7" y1="34.8" x2="23.9" y2="45.7" stroke="#a266da" stroke-width="2.7"/>
</g>
<line x1="336.20" y1="249.80" x2="336.20" y2="322.50" stroke="#c6c6c6" stroke-width="0.85"/>
<path d="M334.75,322.20 L337.65,322.20 L336.20,324.70Z" fill="#111"/>
<line x1="312.70" y1="334.60" x2="546.00" y2="334.60" stroke="#b4b4b4" stroke-width="1.1"/>
<path d="M336.03,234.30 L382.69,320.95 L429.35,325.20 L476.01,328.03 L522.67,330.36" fill="none" stroke="#ff00ff" stroke-width="1.05" stroke-dasharray="1.0 1.1"/>
<path d="M336.03,243.60 L382.69,321.86 L429.35,325.82 L476.01,328.36 L522.67,330.50" fill="none" stroke="#30a4ee" stroke-width="0.95" stroke-dasharray="1.4 1.1"/>
<path d="M336.03,331.74 L382.69,332.99 L429.35,333.88 L476.01,334.17 L522.67,334.42" fill="none" stroke="#ff1a1a" stroke-width="1.2"/>
<path d="M336.03,332.01 L382.69,333.17 L429.35,333.96 L476.01,334.21 L522.67,334.44" fill="none" stroke="#1b6fc8" stroke-width="1.45"/>
<circle cx="336.03" cy="234.30" r="1.70" fill="#fff" stroke="#ff00ff" stroke-width="1.30"/>
<circle cx="382.69" cy="320.95" r="1.70" fill="#fff" stroke="#ff00ff" stroke-width="1.30"/>
<circle cx="429.35" cy="325.20" r="1.70" fill="#fff" stroke="#ff00ff" stroke-width="1.30"/>
<circle cx="476.01" cy="328.03" r="1.70" fill="#fff" stroke="#ff00ff" stroke-width="1.30"/>
<circle cx="522.67" cy="330.36" r="1.70" fill="#fff" stroke="#ff00ff" stroke-width="1.30"/>
<path d="M336.03,242.20 L337.78,244.95 L334.28,244.95Z" fill="#fff" stroke="#30a4ee" stroke-width="0.90"/>
<path d="M382.69,320.46 L384.44,323.21 L380.94,323.21Z" fill="#fff" stroke="#30a4ee" stroke-width="0.90"/>
<path d="M429.35,324.42 L431.10,327.17 L427.60,327.17Z" fill="#fff" stroke="#30a4ee" stroke-width="0.90"/>
<path d="M476.01,326.96 L477.76,329.71 L474.26,329.71Z" fill="#fff" stroke="#30a4ee" stroke-width="0.90"/>
<path d="M522.67,329.10 L524.42,331.85 L520.92,331.85Z" fill="#fff" stroke="#30a4ee" stroke-width="0.90"/>
<circle cx="336.03" cy="331.74" r="1.90" fill="#ff1a1a"/>
<circle cx="382.69" cy="332.99" r="1.90" fill="#ff1a1a"/>
<circle cx="429.35" cy="333.88" r="1.90" fill="#ff1a1a"/>
<circle cx="476.01" cy="334.17" r="1.90" fill="#ff1a1a"/>
<circle cx="522.67" cy="334.42" r="1.90" fill="#ff1a1a"/>
<path d="M336.03,330.41 L337.83,334.01 L334.23,334.01Z" fill="#1b6fc8"/>
<path d="M382.69,331.57 L384.49,335.17 L380.89,335.17Z" fill="#1b6fc8"/>
<path d="M429.35,332.36 L431.15,335.96 L427.55,335.96Z" fill="#1b6fc8"/>
<path d="M476.01,332.61 L477.81,336.21 L474.21,336.21Z" fill="#1b6fc8"/>
<path d="M522.67,332.84 L524.47,336.44 L520.87,336.44Z" fill="#1b6fc8"/>
<text x="372.4" y="224.2" font-size="8.6" font-weight="bold" fill="#111" stroke="#111" stroke-width="0.3" textLength="167.0" lengthAdjust="spacingAndGlyphs">&lt;D&gt; External Venetian Blind 60˚ (VLT : 0.204)</text>
<text x="439.2" y="237.5" font-size="7.5" font-weight="bold" fill="#ff0000" stroke="#ff0000" stroke-width="0.1" textLength="100.2" lengthAdjust="spacingAndGlyphs">Modified Daylight Illuminance</text>
<text x="426.3" y="247.5" font-size="7.5" font-weight="bold" fill="#ff0000" stroke="#ff0000" stroke-width="0.1" textLength="113.1" lengthAdjust="spacingAndGlyphs">Equation's Avg. Error Rate : 10.1%</text>
<text x="368.6" y="274.9" font-size="6.8" font-weight="bold" fill="#595959" stroke="#595959" stroke-width="0.22" textLength="52.4" lengthAdjust="spacingAndGlyphs">(No Blind: Fig. 17)</text>
<text x="389.8" y="283.4" font-size="6.5" fill="#606060" stroke="#606060" stroke-width="0.15" textLength="31.2" lengthAdjust="spacingAndGlyphs">12.21 14:00</text>
<text x="340.0" y="286.3" font-size="5.6" font-weight="bold" fill="#111" stroke="#111" stroke-width="0.22" textLength="10.5" lengthAdjust="spacingAndGlyphs">97%</text>
<text x="340.6" y="308.1" font-size="7.2" font-weight="bold" fill="#111" stroke="#111" stroke-width="0.22" textLength="27.4" lengthAdjust="spacingAndGlyphs">Venetian</text>
<text x="340.6" y="318.2" font-size="7.2" font-weight="bold" fill="#111" stroke="#111" stroke-width="0.22" textLength="27.4" lengthAdjust="spacingAndGlyphs">Blind 60˚</text>
<text x="338.0" y="229.2" font-size="8.0" fill="#505050" stroke="#505050" stroke-width="0.32" textLength="13.0" lengthAdjust="spacingAndGlyphs">10%</text>
<text x="392.8" y="305.5" font-size="8.0" fill="#505050" stroke="#505050" stroke-width="0.32" textLength="9.0" lengthAdjust="spacingAndGlyphs">7%</text>
<text x="434.7" y="309.3" font-size="8.0" fill="#505050" stroke="#505050" stroke-width="0.32" textLength="9.1" lengthAdjust="spacingAndGlyphs">7%</text>
<text x="474.9" y="312.4" font-size="8.0" fill="#505050" stroke="#505050" stroke-width="0.32" textLength="8.9" lengthAdjust="spacingAndGlyphs">5%</text>
<text x="518.9" y="315.2" font-size="8.0" fill="#505050" stroke="#505050" stroke-width="0.32" textLength="8.9" lengthAdjust="spacingAndGlyphs">3%</text>
<text x="318.9" y="326.4" font-size="7.9" fill="#ff0000" stroke="#ff0000" stroke-width="0.45" textLength="13.3" lengthAdjust="spacingAndGlyphs">10%</text>
<text x="389.2" y="313.7" font-size="7.9" fill="#ff0000" stroke="#ff0000" stroke-width="0.45" textLength="12.6" lengthAdjust="spacingAndGlyphs">12%</text>
<text x="430.4" y="318.2" font-size="7.9" fill="#ff0000" stroke="#ff0000" stroke-width="0.45" textLength="13.4" lengthAdjust="spacingAndGlyphs">11%</text>
<text x="474.1" y="320.8" font-size="7.9" fill="#ff0000" stroke="#ff0000" stroke-width="0.45" textLength="9.7" lengthAdjust="spacingAndGlyphs">9%</text>
<text x="518.9" y="323.3" font-size="7.9" fill="#ff0000" stroke="#ff0000" stroke-width="0.45" textLength="8.9" lengthAdjust="spacingAndGlyphs">8%</text>
<line x1="301.00" y1="343.00" x2="546.00" y2="343.00" stroke="#bcbcbc" stroke-width="1.0"/>
<line x1="301.00" y1="350.60" x2="546.00" y2="350.60" stroke="#bcbcbc" stroke-width="1.0"/>
<line x1="301.00" y1="358.60" x2="546.00" y2="358.60" stroke="#bcbcbc" stroke-width="1.0"/>
<line x1="301.00" y1="366.60" x2="546.00" y2="366.60" stroke="#bcbcbc" stroke-width="1.0"/>
<line x1="301.00" y1="374.60" x2="546.00" y2="374.60" stroke="#bcbcbc" stroke-width="1.0"/>
<line x1="301.00" y1="343.00" x2="301.00" y2="374.60" stroke="#bcbcbc" stroke-width="1.0"/>
<line x1="312.70" y1="334.60" x2="312.70" y2="374.60" stroke="#bcbcbc" stroke-width="1.0"/>
<line x1="359.36" y1="334.60" x2="359.36" y2="374.60" stroke="#bcbcbc" stroke-width="1.0"/>
<line x1="406.02" y1="334.60" x2="406.02" y2="374.60" stroke="#bcbcbc" stroke-width="1.0"/>
<line x1="452.68" y1="334.60" x2="452.68" y2="374.60" stroke="#bcbcbc" stroke-width="1.0"/>
<line x1="499.34" y1="334.60" x2="499.34" y2="374.60" stroke="#bcbcbc" stroke-width="1.0"/>
<line x1="546.00" y1="334.60" x2="546.00" y2="374.60" stroke="#bcbcbc" stroke-width="1.0"/>
<line x1="302.60" y1="346.80" x2="309.50" y2="346.80" stroke="#ff44ff" stroke-width="0.8" stroke-dasharray="1 0.8"/>
<circle cx="306.05" cy="346.80" r="1.78" fill="#fff" stroke="#ff00ff" stroke-width="1.37"/>
<line x1="311.50" y1="348.00" x2="311.50" y2="349.40" stroke="#aaa" stroke-width="0.5"/>
<line x1="302.60" y1="354.60" x2="309.50" y2="354.60" stroke="#5ab4f0" stroke-width="0.8" stroke-dasharray="1 0.8"/>
<path d="M306.05,353.13 L307.89,356.02 L304.21,356.02Z" fill="#fff" stroke="#30a4ee" stroke-width="0.95"/>
<line x1="311.50" y1="355.80" x2="311.50" y2="357.20" stroke="#aaa" stroke-width="0.5"/>
<line x1="302.60" y1="362.60" x2="309.50" y2="362.60" stroke="#ff3030" stroke-width="0.8"/>
<circle cx="306.05" cy="362.60" r="1.99" fill="#ff1a1a"/>
<line x1="311.50" y1="363.80" x2="311.50" y2="365.20" stroke="#aaa" stroke-width="0.5"/>
<line x1="302.60" y1="370.60" x2="309.50" y2="370.60" stroke="#2a80d0" stroke-width="0.8"/>
<path d="M306.05,368.92 L307.94,372.70 L304.16,372.70Z" fill="#1b6fc8"/>
<line x1="311.50" y1="371.80" x2="311.50" y2="373.20" stroke="#aaa" stroke-width="0.5"/>
<text x="336.0" y="341.1" font-size="5.3" fill="#222222" stroke="#222222" stroke-width="0.3" text-anchor="middle" textLength="7.0" lengthAdjust="spacingAndGlyphs">1m</text>
<text x="382.7" y="341.1" font-size="5.3" fill="#222222" stroke="#222222" stroke-width="0.3" text-anchor="middle" textLength="7.0" lengthAdjust="spacingAndGlyphs">2m</text>
<text x="429.4" y="341.1" font-size="5.3" fill="#222222" stroke="#222222" stroke-width="0.3" text-anchor="middle" textLength="7.0" lengthAdjust="spacingAndGlyphs">3m</text>
<text x="476.0" y="341.1" font-size="5.3" fill="#222222" stroke="#222222" stroke-width="0.3" text-anchor="middle" textLength="7.0" lengthAdjust="spacingAndGlyphs">4m</text>
<text x="522.7" y="341.1" font-size="5.3" fill="#222222" stroke="#222222" stroke-width="0.3" text-anchor="middle" textLength="7.0" lengthAdjust="spacingAndGlyphs">5m</text>
<text x="336.0" y="349.2" font-size="5.3" fill="#222222" stroke="#222222" stroke-width="0.3" text-anchor="middle" textLength="14.8" lengthAdjust="spacingAndGlyphs">24,429</text>
<text x="382.7" y="349.2" font-size="5.3" fill="#222222" stroke="#222222" stroke-width="0.3" text-anchor="middle" textLength="10.7" lengthAdjust="spacingAndGlyphs">3345</text>
<text x="429.4" y="349.2" font-size="5.3" fill="#222222" stroke="#222222" stroke-width="0.3" text-anchor="middle" textLength="10.7" lengthAdjust="spacingAndGlyphs">2312</text>
<text x="476.0" y="349.2" font-size="5.3" fill="#222222" stroke="#222222" stroke-width="0.3" text-anchor="middle" textLength="10.7" lengthAdjust="spacingAndGlyphs">1624</text>
<text x="522.7" y="349.2" font-size="5.3" fill="#222222" stroke="#222222" stroke-width="0.3" text-anchor="middle" textLength="10.7" lengthAdjust="spacingAndGlyphs">1057</text>
<text x="336.0" y="357.0" font-size="5.3" fill="#222222" stroke="#222222" stroke-width="0.3" text-anchor="middle" textLength="14.8" lengthAdjust="spacingAndGlyphs">22,166</text>
<text x="382.7" y="357.0" font-size="5.3" fill="#222222" stroke="#222222" stroke-width="0.3" text-anchor="middle" textLength="10.7" lengthAdjust="spacingAndGlyphs">3125</text>
<text x="429.4" y="357.0" font-size="5.3" fill="#222222" stroke="#222222" stroke-width="0.3" text-anchor="middle" textLength="10.7" lengthAdjust="spacingAndGlyphs">2161</text>
<text x="476.0" y="357.0" font-size="5.3" fill="#222222" stroke="#222222" stroke-width="0.3" text-anchor="middle" textLength="10.7" lengthAdjust="spacingAndGlyphs">1543</text>
<text x="522.7" y="357.0" font-size="5.3" fill="#222222" stroke="#222222" stroke-width="0.3" text-anchor="middle" textLength="10.7" lengthAdjust="spacingAndGlyphs">1023</text>
<text x="336.0" y="365.0" font-size="5.3" fill="#222222" stroke="#222222" stroke-width="0.3" text-anchor="middle" textLength="8.1" lengthAdjust="spacingAndGlyphs">721</text>
<text x="382.7" y="365.0" font-size="5.3" fill="#222222" stroke="#222222" stroke-width="0.3" text-anchor="middle" textLength="8.1" lengthAdjust="spacingAndGlyphs">416</text>
<text x="429.4" y="365.0" font-size="5.3" fill="#222222" stroke="#222222" stroke-width="0.3" text-anchor="middle" textLength="8.1" lengthAdjust="spacingAndGlyphs">200</text>
<text x="476.0" y="365.0" font-size="5.3" fill="#222222" stroke="#222222" stroke-width="0.3" text-anchor="middle" textLength="8.1" lengthAdjust="spacingAndGlyphs">130</text>
<text x="522.7" y="365.0" font-size="5.3" fill="#222222" stroke="#222222" stroke-width="0.3" text-anchor="middle" textLength="5.4" lengthAdjust="spacingAndGlyphs">68</text>
<text x="336.0" y="373.0" font-size="5.3" fill="#222222" stroke="#222222" stroke-width="0.3" text-anchor="middle" textLength="8.1" lengthAdjust="spacingAndGlyphs">654</text>
<text x="382.7" y="373.0" font-size="5.3" fill="#222222" stroke="#222222" stroke-width="0.3" text-anchor="middle" textLength="8.1" lengthAdjust="spacingAndGlyphs">372</text>
<text x="429.4" y="373.0" font-size="5.3" fill="#222222" stroke="#222222" stroke-width="0.3" text-anchor="middle" textLength="8.1" lengthAdjust="spacingAndGlyphs">180</text>
<text x="476.0" y="373.0" font-size="5.3" fill="#222222" stroke="#222222" stroke-width="0.3" text-anchor="middle" textLength="8.1" lengthAdjust="spacingAndGlyphs">119</text>
<text x="522.7" y="373.0" font-size="5.3" fill="#222222" stroke="#222222" stroke-width="0.3" text-anchor="middle" textLength="5.4" lengthAdjust="spacingAndGlyphs">63</text>
<text x="282.6" y="353.3" font-size="6.4" font-weight="bold" fill="#1a1a1a" stroke="#1a1a1a" stroke-width="0.22" textLength="11.8" lengthAdjust="spacingAndGlyphs">No.B</text>
<text x="283.4" y="368.5" font-size="6.4" font-weight="bold" fill="#1a1a1a" stroke="#1a1a1a" stroke-width="0.22" textLength="12.6" lengthAdjust="spacingAndGlyphs">B.60˚</text>
<text x="24.2" y="147.5" font-size="5.9" font-weight="bold" fill="#111" stroke="#111" stroke-width="0.36" textLength="2.7" lengthAdjust="spacingAndGlyphs">0</text>
<text x="298.8" y="147.1" font-size="5.9" font-weight="bold" fill="#111" stroke="#111" stroke-width="0.36" textLength="3.1" lengthAdjust="spacingAndGlyphs">0</text>
<rect x="29.1" y="334.9" width="1.5" height="1.0" fill="#222"/>
<rect x="303.6" y="334.9" width="1.5" height="1.0" fill="#222"/>
</svg>
</body></html>
